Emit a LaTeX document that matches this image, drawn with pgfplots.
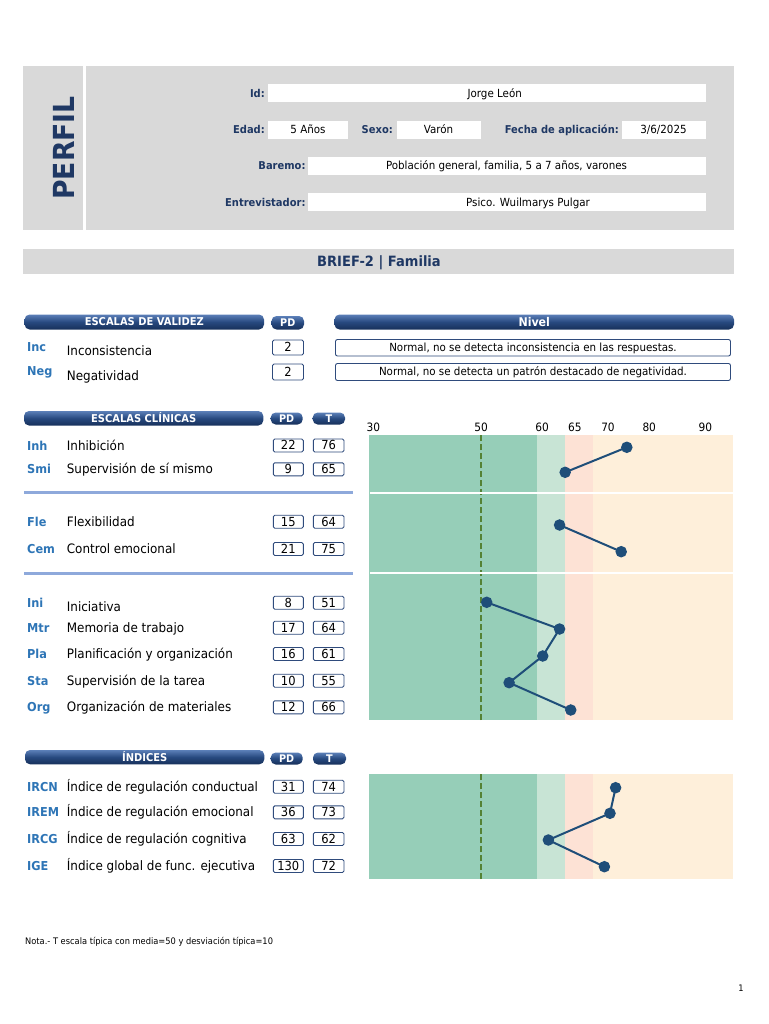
\documentclass[border=0pt]{standalone}
\usepackage{fontspec}
\setmainfont{DejaVu Sans}[FakeStretch=0.92]
\usepackage{pgfplots}
\pgfplotsset{compat=1.18}
\definecolor{bandA}{HTML}{96CEB8}
\definecolor{bandB}{HTML}{C8E4D5}
\definecolor{bandC}{HTML}{FDE2D5}
\definecolor{bandD}{HTML}{FEEFDA}
\definecolor{navy}{HTML}{1F3864}
\definecolor{dotblue}{HTML}{1F4E79}
\definecolor{abbrblue}{HTML}{2E75B6}
\definecolor{grayhdr}{HTML}{D9D9D9}
\definecolor{sepblue}{HTML}{8EA9DB}
\definecolor{dashgreen}{HTML}{548235}
\definecolor{pillT}{HTML}{5B7FB8}
\definecolor{pillM}{HTML}{27497F}
\definecolor{pillB}{HTML}{17305A}
\definecolor{boxblue}{HTML}{2F4B7C}
\newcommand{\fs}[1]{\fontsize{#1}{#1}\selectfont}
\newcommand{\pill}[6]{% x1 y1 x2 y2 baseline text
  \shade[top color=pillT, bottom color=pillB, middle color=pillM, rounded corners=5pt] (#1,#2) rectangle (#3,#4);
  \node[font=\fs{10.8}\bfseries, text=white, anchor=base, inner sep=0pt] at ({(#1+#3)/2},#5) {#6};}
\newcommand{\valbox}[5]{% x1 y1 x2 y2 text
  \draw[draw=boxblue, fill=white, line width=0.9pt, rounded corners=1.5pt] (#1,#2) rectangle (#3,#4);
  \node[font=\fs{12.5}, anchor=base, inner sep=0pt] at ({(#1+#3)/2},{(#2+#4)/2+4.4}) {#5};}
% row: baseline abbr, baseline name, abbr, name, PD, T
\newcommand{\crow}[6]{%
  \node[font=\fs{12.3}\bfseries, text=abbrblue, anchor=base west, inner sep=0pt] at (27,#1) {#3};
  \node[font=\fs{13}, anchor=base west, inner sep=0pt] at (66.7,#2) {#4};
  \valbox{273.3}{#1-11}{303.3}{#1+2}{#5}
  \valbox{313.3}{#1-11}{344}{#1+2}{#6}}
\begin{document}
\begin{tikzpicture}[x=1pt,y=-1pt]
\path[use as bounding box] (0,0) rectangle (768,1024);
% ---------- header ----------
\fill[grayhdr] (23,66) rectangle (734,230);
\fill[white] (83,66) rectangle (85.5,230);
\node[rotate=90, font=\fs{29}\bfseries, text=navy] at (63.5,148) {PERFIL};
\fill[white] (268,84) rectangle (706,101.7);
\fill[white] (268,121) rectangle (348.3,139);
\fill[white] (397.3,121) rectangle (480.7,139);
\fill[white] (621.7,121) rectangle (706,139);
\fill[white] (308.3,157.3) rectangle (706,175);
\fill[white] (308.3,193.3) rectangle (706,211);
\begin{scope}[every node/.style={font=\fs{10.8}\bfseries, text=navy, anchor=base east, inner sep=0pt}]
\node at (265,97.1) {Id:};
\node at (265,133.8) {Edad:};
\node at (393,133.8) {Sexo:};
\node at (619,133.8) {Fecha de aplicación:};
\node at (305.7,169.8) {Baremo:};
\node at (305.7,206.5) {Entrevistador:};
\end{scope}
\begin{scope}[every node/.style={font=\fs{11.2}, anchor=base, inner sep=0pt}]
\node at (494.7,97.1) {Jorge León};
\node at (308,133.8) {5 Años};
\node at (438.5,133.8) {Varón};
\node at (663.5,133.8) {3/6/2025};
\node at (506.5,169.8) {Población general, familia, 5 a 7 años, varones};
\node at (528,206.5) {Psico. Wuilmarys Pulgar};
\end{scope}
% ---------- title ----------
\fill[grayhdr] (23,248.5) rectangle (734,273.5);
\node[font=\fs{14.2}\bfseries, text=navy, anchor=base, inner sep=0pt] at (379,266) {BRIEF-2 | Familia};
% ---------- validity ----------
\pill{24.6}{314.5}{264}{329.5}{325.6}{ESCALAS DE VALIDEZ}
\pill{271.5}{316}{304}{329.5}{326.7}{\fs{10.5}PD}
\pill{334.5}{314.5}{734}{329.5}{326.4}{\fs{12}Nivel}
\node[font=\fs{12.3}\bfseries, text=abbrblue, anchor=base west, inner sep=0pt] at (27,351.5) {Inc};
\node[font=\fs{13}, anchor=base west, inner sep=0pt] at (66.7,355.5) {Inconsistencia};
\valbox{272.5}{340}{303.5}{355}{2}
\draw[draw=boxblue, fill=white, line width=0.9pt, rounded corners=2pt] (335.5,339.5) rectangle (730.5,356);
\node[font=\fs{11.2}, anchor=base, inner sep=0pt] at (533,351.6) {Normal, no se detecta inconsistencia en las respuestas.};
\node[font=\fs{12.3}\bfseries, text=abbrblue, anchor=base west, inner sep=0pt] at (27,375.5) {Neg};
\node[font=\fs{13}, anchor=base west, inner sep=0pt] at (66.7,380.5) {Negatividad};
\valbox{272.5}{364}{303.5}{380}{2}
\draw[draw=boxblue, fill=white, line width=0.9pt, rounded corners=2pt] (335.5,363.5) rectangle (730.5,380.5);
\node[font=\fs{11.2}, anchor=base, inner sep=0pt] at (533,375.8) {Normal, no se detecta un patrón destacado de negatividad.};
% ---------- clinical ----------
\pill{24}{411}{263.3}{425.5}{422.3}{ESCALAS CLÍNICAS}
\pill{270.7}{412.5}{302.7}{424.5}{422.8}{\fs{10.5}PD}
\pill{312.7}{412.5}{345}{424.5}{422.8}{\fs{10.5}T}
\crow{450}{450}{Inh}{Inhibición}{22}{76}
\crow{473.8}{473.8}{Smi}{Supervisión de sí mismo}{9}{65}
\draw[sepblue, line width=2.5pt] (24,492.7) -- (353,492.7);
\crow{526.2}{526.2}{Fle}{Flexibilidad}{15}{64}
\crow{553.5}{553.5}{Cem}{Control emocional}{21}{75}
\draw[sepblue, line width=2.5pt] (24,573.3) -- (353,573.3);
\crow{607.2}{611.2}{Ini}{Iniciativa}{8}{51}
\crow{632.2}{632.2}{Mtr}{Memoria de trabajo}{17}{64}
\crow{658.5}{658.5}{Pla}{Planificación y organización}{16}{61}
\crow{685.2}{685.2}{Sta}{Supervisión de la tarea}{10}{55}
\crow{711.8}{711.8}{Org}{Organización de materiales}{12}{66}
% ---------- indices ----------
\pill{25}{750}{264.3}{764.3}{761}{ÍNDICES}
\pill{270.7}{752.5}{302.7}{764.5}{762.7}{\fs{10.5}PD}
\pill{313}{752.5}{346}{764.5}{762.7}{\fs{10.5}T}
\crow{791.2}{791.2}{IRCN}{Índice de regulación conductual}{31}{74}
\crow{816.8}{816.8}{IREM}{Índice de regulación emocional}{36}{73}
\crow{843.5}{843.5}{IRCG}{Índice de regulación cognitiva}{63}{62}
\crow{870.5}{870.5}{IGE}{Índice global de func. ejecutiva}{130}{72}
% ---------- plots ----------
\begin{axis}[at={(369pt,-720pt)}, anchor=south west, width=364.3pt, height=285pt, scale only axis,
  xmin=30, xmax=95, ymin=0, ymax=285,
  axis line style={draw=none}, major tick length=0pt,
  xtick={30.77,50,60.87,66.75,72.64,80,90},
  xticklabels={\textrm{30},\textrm{50},\textrm{60},\textrm{65},\textrm{70},\textrm{80},\textrm{90}},
  xticklabel pos=upper, ytick=\empty,
  xticklabel style={font=\fs{11.5}}, clip=false]
\addplot[draw=none, fill=bandA, forget plot] coordinates {(30,0) (60,0) (60,285) (30,285)};
\addplot[draw=none, fill=bandB, forget plot] coordinates {(60,0) (65,0) (65,285) (60,285)};
\addplot[draw=none, fill=bandC, forget plot] coordinates {(65,0) (70,0) (70,285) (65,285)};
\addplot[draw=none, fill=bandD, forget plot] coordinates {(70,0) (95,0) (95,285) (70,285)};
\addplot[dashgreen, line width=1.6pt, dash pattern=on 6pt off 3pt, forget plot] coordinates {(50,0) (50,285)};
\addplot[white, line width=2pt, forget plot] coordinates {(30.2,227.3) (95,227.3)};
\addplot[white, line width=2pt, forget plot] coordinates {(30.2,147.3) (95,147.3)};
\addplot[dotblue, line width=2pt, mark=*, mark size=4.7pt, mark options={fill=dotblue, draw=dotblue}] coordinates {(76,272.7) (65,247.7)};
\addplot[dotblue, line width=2pt, mark=*, mark size=4.7pt, mark options={fill=dotblue, draw=dotblue}] coordinates {(64,195) (75,168.3)};
\addplot[dotblue, line width=2pt, mark=*, mark size=4.7pt, mark options={fill=dotblue, draw=dotblue}] coordinates {(51,117.7) (64,91) (61,64) (55,37.3) (66,10)};
\end{axis}
\begin{axis}[at={(369pt,-879pt)}, anchor=south west, width=364.3pt, height=105pt, scale only axis,
  xmin=30, xmax=95, ymin=0, ymax=105,
  axis line style={draw=none}, major tick length=0pt,
  xtick=\empty, ytick=\empty, clip=false]
\addplot[draw=none, fill=bandA, forget plot] coordinates {(30,0) (60,0) (60,105) (30,105)};
\addplot[draw=none, fill=bandB, forget plot] coordinates {(60,0) (65,0) (65,105) (60,105)};
\addplot[draw=none, fill=bandC, forget plot] coordinates {(65,0) (70,0) (70,105) (65,105)};
\addplot[draw=none, fill=bandD, forget plot] coordinates {(70,0) (95,0) (95,105) (70,105)};
\addplot[dashgreen, line width=1.6pt, dash pattern=on 6pt off 3pt, forget plot] coordinates {(50,0) (50,105)};
\addplot[dotblue, line width=2pt, mark=*, mark size=4.7pt, mark options={fill=dotblue, draw=dotblue}] coordinates {(74,91.3) (73,65.7) (62,39) (72,12.3)};
\end{axis}
% ---------- footer ----------
\node[font=\fs{9}, anchor=base west, inner sep=0pt] at (25,944) {Nota.- T escala típica con media=50 y desviación típica=10};
\node[font=\fs{9}, anchor=base, inner sep=0pt] at (741,991.3) {1};
\end{tikzpicture}
\end{document}
